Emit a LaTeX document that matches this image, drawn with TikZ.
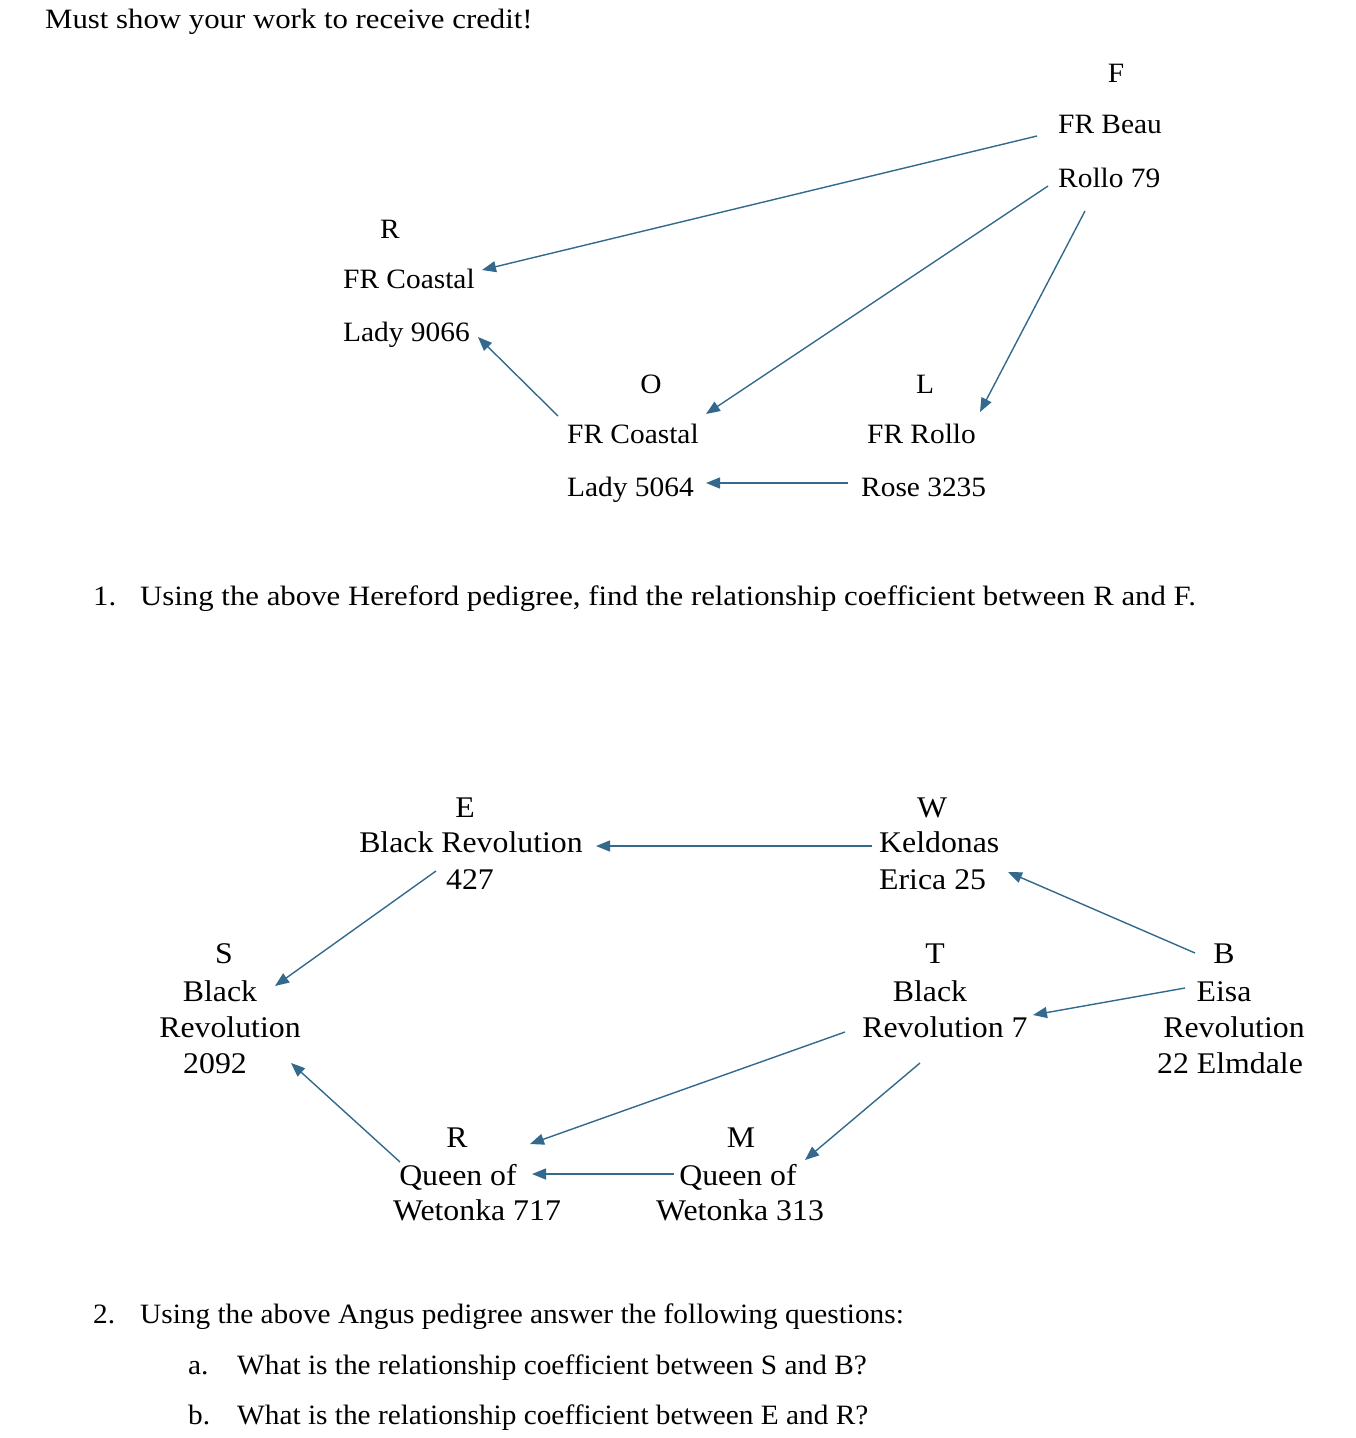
\documentclass[tikz,border=0pt]{standalone}
\usepackage{fontspec}
\setmainfont{Liberation Serif}
\newfontfamily\fA[FakeStretch=1.05]{Liberation Serif}
\newfontfamily\fB[FakeStretch=1.06]{Liberation Serif}
\newfontfamily\fC[FakeStretch=1.10]{Liberation Serif}
\newfontfamily\fD[FakeStretch=1.047]{Liberation Serif}
\usetikzlibrary{arrows.meta}
\definecolor{arrowblue}{RGB}{50,105,140}
\begin{document}
\begin{tikzpicture}[x=1pt,y=-1pt,
  lbl/.style={inner sep=0pt, font=\fA\fontsize{28}{28}\selectfont},
  lw/.style={lbl, anchor=base west},
  lc/.style={lbl, anchor=base},
  tl/.style={inner sep=0pt, anchor=base, font=\fB\fontsize{30}{30}\selectfont},
  tw/.style={tl, anchor=base west},
  qc/.style={inner sep=0pt, anchor=base west, font=\fC\fontsize{28}{28}\selectfont},
  qq/.style={inner sep=0pt, anchor=base west, font=\fD\fontsize{28}{28}\selectfont},
  arr/.style={draw=arrowblue, line width=1.4pt, -{Triangle[length=14pt,width=11pt]}}]
\useasboundingbox (0,0) rectangle (1356,1438);
% title
\node[qc] (title) at (45,28) {Must show your work to receive credit!};
% top pedigree
\node[lc] (Fl) at (1116,82) {F};
\node[lw] (Fb) at (1058,133) {FR Beau};
\node[lw] (Fr) at (1058,187) {Rollo 79};
\node[lc] (Rl) at (390,238) {R};
\node[lw] (Rc) at (343,288) {FR Coastal};
\node[lw] (Rd) at (343,341) {Lady 9066};
\node[lc] (Ol) at (651,393) {O};
\node[lw] (Oc) at (567,443) {FR Coastal};
\node[lw] (Od) at (567,496) {Lady 5064};
\node[lc] (Ll) at (925,393) {L};
\node[lw] (Lr) at (867,443) {FR Rollo};
\node[lw] (Lo) at (861,496) {Rose 3235};
\draw[arr] ([shift={(-21,3)}]Fb.base west) -- ([shift={(139,-18)}]Rc.base west);
\draw[arr] ([shift={(-10,-1)}]Fr.base west) -- ([shift={(139,-29)}]Oc.base west);
\draw[arr] ([shift={(27,24)}]Fr.base west) -- ([shift={(113,-31)}]Lr.base west);
\draw[arr] ([shift={(-9,-27)}]Oc.base west) -- ([shift={(135,-4)}]Rd.base west);
\draw[arr] ([shift={(-13,-13)}]Lo.base west) -- ([shift={(139,-13)}]Od.base west);
% question 1
\node[qc] (q1n) at (93,605) {1.};
\node[qc] (q1) at (140,605) {Using the above Hereford pedigree, find the relationship coefficient between R and F.};
% lower pedigree
\node[tl] (E) at (465,817) {E};
\node[tl] (Eb) at (471,852) {Black Revolution};
\node[tl] (En) at (470,889) {427};
\node[tl] (W) at (932,817) {W};
\node[tw] (Wk) at (879,852) {Keldonas};
\node[tw] (We) at (879,889) {Erica 25};
\node[tl] (S) at (224,963) {S};
\node[tl] (Sb) at (220,1001) {Black};
\node[tl] (Sr) at (230,1037) {Revolution};
\node[tl] (Sn) at (215,1073) {2092};
\node[tl] (T) at (935,963) {T};
\node[tl] (Tb) at (930,1001) {Black};
\node[tl] (Tr) at (945,1037) {Revolution 7};
\node[tl] (B) at (1224,963) {B};
\node[tl] (Be) at (1224,1001) {Eisa};
\node[tl] (Br) at (1234,1037) {Revolution};
\node[tl] (Bn) at (1230,1073) {22 Elmdale};
\node[tl] (R) at (457,1147) {R};
\node[tl] (Rq) at (458,1185) {Queen of};
\node[tl] (Rw) at (477,1220) {Wetonka 717};
\node[tl] (M) at (741,1147) {M};
\node[tl] (Mq) at (738,1185) {Queen of};
\node[tl] (Mw) at (740,1220) {Wetonka 313};
\draw[arr] ([shift={(-7,-6)}]Wk.base west) -- ([shift={(125,-6)}]Eb.base);
\draw[arr] ([shift={(-34,-18)}]En.base) -- ([shift={(55,-15)}]Sb.base);
\draw[arr] ([shift={(-29,-10)}]B.base) -- ([shift={(129,-17)}]We.base west);
\draw[arr] ([shift={(-39,-13)}]Be.base) -- ([shift={(88,-22)}]Tr.base);
\draw[arr] ([shift={(-100,-5)}]Tr.base) -- ([shift={(73,-3)}]R.base);
\draw[arr] ([shift={(-25,26)}]Tr.base) -- ([shift={(64,13)}]M.base);
\draw[arr] ([shift={(-64,-11)}]Mq.base) -- ([shift={(74,-11)}]Rq.base);
\draw[arr] ([shift={(-58,-23)}]Rq.base) -- ([shift={(76,-10)}]Sn.base);
% question 2
\node[qq] (q2n) at (93,1323) {2.};
\node[qq] (q2) at (140,1323) {Using the above Angus pedigree answer the following questions:};
\node[qq] (qan) at (188,1374) {a.};
\node[qq] (qa) at (237,1374) {What is the relationship coefficient between S and B?};
\node[qq] (qbn) at (188,1424) {b.};
\node[qq] (qb) at (237,1424) {What is the relationship coefficient between E and R?};
\end{tikzpicture}
\end{document}
